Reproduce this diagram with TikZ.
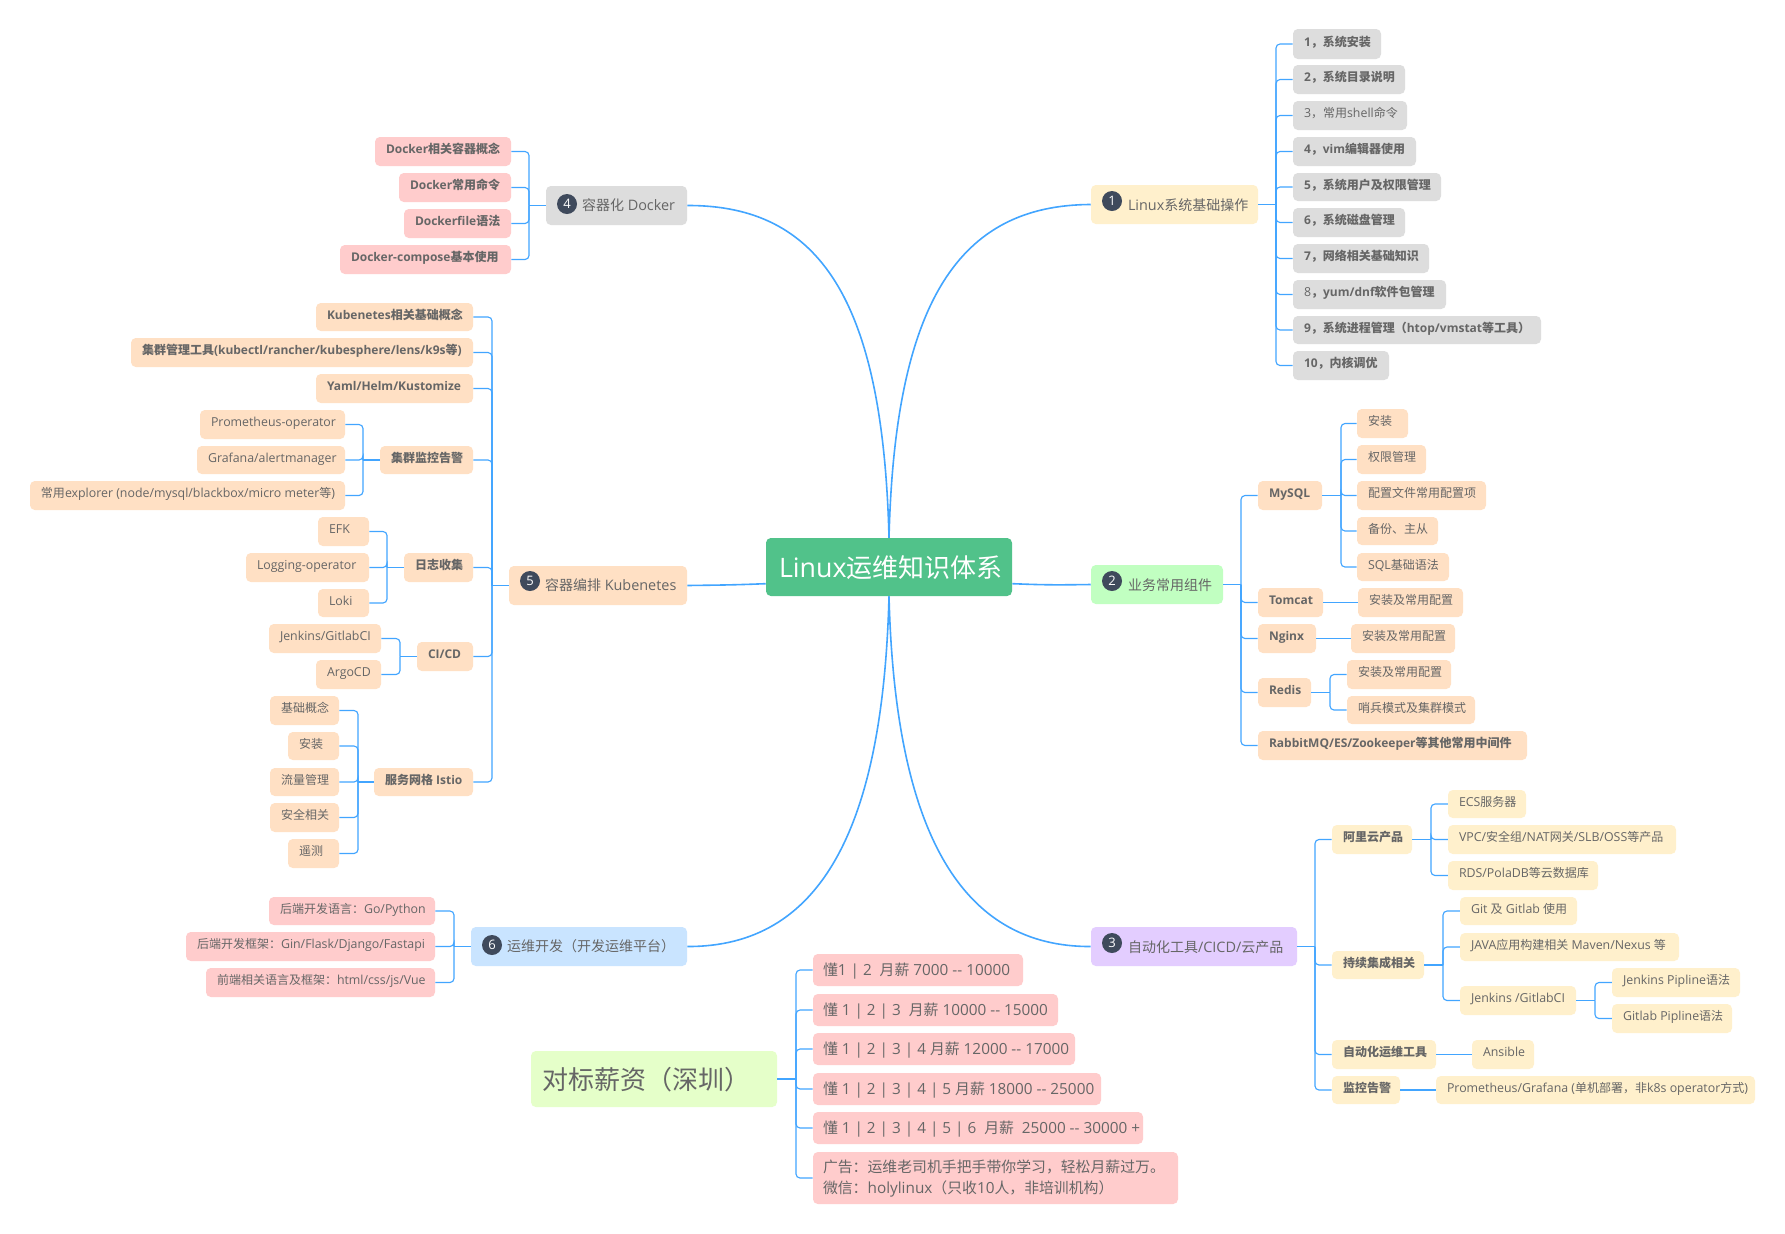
\documentclass[tikz,border=0pt]{standalone}
\usepackage{fontspec}
\setmainfont[Scale=1.03,BoldFeatures={Scale=1.0}]{Open Sans}
\newfontfamily\cjkf{Noto Sans CJK SC}
\newXeTeXintercharclass\cjkclass
\newcount\cc
\newcommand{\setcjkrange}[2]{\cc=#1 \loop\XeTeXcharclass\cc=\cjkclass \ifnum\cc<#2 \advance\cc by 1 \repeat}
\setcjkrange{"3000}{"30FF}
\setcjkrange{"4E00}{"9FFF}
\setcjkrange{"FF00}{"FFEF}
\XeTeXinterchartokenstate=1
\XeTeXinterchartoks 0 \cjkclass={\begingroup\cjkf}
\XeTeXinterchartoks 4095 \cjkclass={\begingroup\cjkf}
\XeTeXinterchartoks \cjkclass 0={\endgroup}
\XeTeXinterchartoks \cjkclass 4095={\endgroup}
\definecolor{txt}{HTML}{666666}
\definecolor{linkc}{HTML}{42A5FF}
\definecolor{cyel}{HTML}{FFF0CC}
\definecolor{cgre}{HTML}{C1FFC1}
\definecolor{cpur}{HTML}{E3CDFF}
\definecolor{cgry}{HTML}{DDDDDD}
\definecolor{corg}{HTML}{FFE0C4}
\definecolor{cblu}{HTML}{C9E4FF}
\definecolor{cpnk}{HTML}{FFCCCC}
\definecolor{cmid}{HTML}{51C28A}
\definecolor{clim}{HTML}{E5FFC9}
\definecolor{cbad}{HTML}{3F4A5C}
\tikzset{
 mmbox/.style={rectangle,rounded corners=3.6pt,inner sep=0pt,text=txt,draw=none,anchor=center},
 sm/.style={font=\fontsize{9}{11}\selectfont,text height=8pt,text depth=4.5pt},
 bd/.style={font=\fontsize{9}{11}\selectfont\bfseries,text height=8pt,text depth=4.5pt},
 lv/.style={font=\fontsize{10.5}{12}\selectfont,text height=10.6pt,text depth=2pt},
 lvl/.style={font=\fontsize{10.5}{12}\selectfont,text height=10pt,text depth=2pt},
 sal/.style={font=\fontsize{11.15}{15.75}\selectfont,text height=10.5pt,text depth=2pt},
 big/.style={font=\fontsize{19.5}{22}\selectfont,text height=20pt,text depth=5pt},
 badge/.style={circle,fill=cbad,text=white,inner sep=0pt,minimum size=15pt,font=\fontsize{9.5}{11}\selectfont},
 link/.style={draw=linkc,line width=.85pt},
 linkr/.style={link,rounded corners=3pt},
 mainlink/.style={draw=linkc,line width=1.2pt}
}
\newcommand{\N}[8][11]{%
 \pgfmathsetmacro\bw{(#5-#3)*0.75}\pgfmathsetmacro\bh{(#6-#4)*0.75}\pgfmathsetmacro\bp{#1*0.75}%
 \node[mmbox,fill=#7,#8,minimum width=\bw pt,minimum height=\bh pt] (#2) at ({(#3+#5)/2},{(#4+#6)/2}) {\makebox[\bw pt][l]{\hspace*{\bp pt}\nodetext}};}
\newcommand{\T}[1]{\def\nodetext{#1}}
\newcommand{\cnr}[3]{\draw[link] (#1.east) -- (#2 |- #1.east);\draw[linkr] (#2 |- #1.east) -- (#2 |- #3.west) -- (#3.west);}
\newcommand{\cnl}[3]{\draw[link] (#1.west) -- (#2 |- #1.west);\draw[linkr] (#2 |- #1.west) -- (#2 |- #3.east) -- (#3.east);}
\begin{document}
\begin{tikzpicture}[x=0.75pt,y=-0.75pt]
\fill[white] (0,0) rectangle (1785,1233);
\useasboundingbox (0,0) rectangle (1785,1233);
% centre
\T{\textcolor{white}{Linux运维知识体系}}\N[13]{ctr}{766}{538}{1012}{596}{cmid}{big}
% level one
\T{Linux系统基础操作}\N[37]{LA}{1091}{185}{1258}{224}{cyel}{lv}
\T{业务常用组件}\N[37]{LB}{1091}{565}{1223}{604}{cgre}{lv}
\T{自动化工具/CICD/云产品}\N[37]{LC}{1091}{927}{1297}{966}{cpur}{lv}
\T{容器化 Docker}\N[36]{LD}{546}{186}{687}{225}{cgry}{lvl}
\T{容器编排 Kubenetes}\N[36]{LE}{509}{566}{687}{605}{corg}{lvl}
\T{运维开发（开发运维平台）}\N[36]{LF}{471}{927}{687}{966}{cblu}{lvl}
\node[badge] (ba) at (1112,201) {1};
\node[badge] (bb) at (1112,581) {2};
\node[badge] (bc) at (1112,943) {3};
\node[badge] (bd) at (567,204) {4};
\node[badge] (be) at (530,581) {5};
\node[badge] (bf) at (492,945) {6};
% main curves
\draw[mainlink] (ctr.north) .. controls (895,300) and (960,205) .. (LA.west);
\draw[mainlink] (ctr.south) .. controls (895,830) and (960,947) .. (LC.west);
\draw[mainlink] (ctr.north) .. controls (883,300) and (820,205) .. (LD.east);
\draw[mainlink] (ctr.south) .. controls (883,830) and (820,947) .. (LF.east);
\draw[mainlink] ([yshift=-12.5pt]ctr.east) .. controls (1045,585) and (1055,585) .. (LB.west);
\draw[mainlink] ([yshift=-12.5pt]ctr.west) .. controls (733,585) and (723,585) .. (LE.east);
% group 1
\coordinate (ta) at (1276,0);
\T{1，系统安装}\N{a1}{1293}{29}{1381}{59}{cgry}{bd}
\T{2，系统目录说明}\N{a2}{1293}{65}{1405}{94}{cgry}{bd}
\T{3，常用shell命令}\N{a3}{1293}{101}{1407}{130}{cgry}{sm}
\T{4，vim编辑器使用}\N{a4}{1293}{137}{1416}{166}{cgry}{bd}
\T{5，系统用户及权限管理}\N{a5}{1293}{173}{1441}{201}{cgry}{bd}
\T{6，系统磁盘管理}\N{a6}{1293}{208}{1405}{237}{cgry}{bd}
\T{7，网络相关基础知识}\N{a7}{1293}{244}{1429}{273}{cgry}{bd}
\T{{\mdseries 8}，yum/dnf软件包管理}\N{a8}{1293}{280}{1446}{309}{cgry}{bd}
\T{9，系统进程管理（htop/vmstat等工具）}\N{a9}{1293}{316}{1541}{344}{cgry}{bd}
\T{10，内核调优}\N{a10}{1293}{351}{1389}{380}{cgry}{bd}
\foreach \c in {a1,a2,a3,a4,a5,a6,a7,a8,a9,a10} {\cnr{LA}{ta}{\c}}
% group 2
\coordinate (tb) at (1241,0);
\coordinate (tb1) at (1341,0);
\coordinate (tb2) at (1330,0);
\T{MySQL}\N{bm}{1258}{481}{1322}{510}{corg}{bd}
\T{Tomcat}\N{bt}{1258}{588}{1323}{617}{corg}{bd}
\T{Nginx}\N{bn}{1258}{624}{1316}{653}{corg}{bd}
\T{Redis}\N{br}{1258}{678}{1311}{707}{corg}{bd}
\T{RabbitMQ/ES/Zookeeper等其他常用中间件}\N{bq}{1258}{731}{1527}{760}{corg}{bd}
\foreach \c in {bm,bt,bn,br,bq} {\cnr{LB}{tb}{\c}}
\T{安装}\N{m1}{1357}{409}{1408}{438}{corg}{sm}
\T{权限管理}\N{m2}{1357}{445}{1426}{474}{corg}{sm}
\T{配置文件常用配置项}\N{m3}{1357}{481}{1486}{510}{corg}{sm}
\T{备份、主从}\N{m4}{1357}{517}{1438}{545}{corg}{sm}
\T{SQL基础语法}\N{m5}{1357}{553}{1449}{581}{corg}{sm}
\foreach \c in {m1,m2,m3,m4,m5} {\cnr{bm}{tb1}{\c}}
\T{安装及常用配置}\N{t1}{1358}{588}{1463}{617}{corg}{sm}
\draw[link] (bt.east) -- (t1.west);
\T{安装及常用配置}\N{n1}{1351}{624}{1455}{653}{corg}{sm}
\draw[link] (bn.east) -- (n1.west);
\T{安装及常用配置}\N{r1}{1347}{660}{1451}{689}{corg}{sm}
\T{哨兵模式及集群模式}\N{r2}{1347}{696}{1475}{724}{corg}{sm}
\foreach \c in {r1,r2} {\cnr{br}{tb2}{\c}}
% group 3
\coordinate (tc) at (1315,0);
\coordinate (tc1) at (1431,0);
\coordinate (tc2) at (1443,0);
\coordinate (tc3) at (1595,0);
\T{阿里云产品}\N{ca}{1332}{825}{1412}{854}{cyel}{bd}
\T{持续集成相关}\N{cb}{1332}{951}{1424}{979}{cyel}{bd}
\T{自动化运维工具}\N{cc}{1332}{1040}{1436}{1069}{cyel}{bd}
\T{监控告警}\N{cd}{1332}{1076}{1400}{1104}{cyel}{bd}
\foreach \c in {ca,cb,cc,cd} {\cnr{LC}{tc}{\c}}
\T{ECS服务器}\N{a11}{1448}{790}{1526}{818}{cyel}{sm}
\T{VPC/安全组/NAT网关/SLB/OSS等产品}\N{a12}{1448}{825}{1676}{854}{cyel}{sm}
\T{RDS/PolaDB等云数据库}\N{a13}{1448}{861}{1598}{890}{cyel}{sm}
\foreach \c in {a11,a12,a13} {\cnr{ca}{tc1}{\c}}
\T{Git 及 Gitlab 使用}\N{g1}{1460}{897}{1577}{925}{cyel}{sm}
\T{JAVA应用构建相关 Maven/Nexus 等}\N{g2}{1460}{933}{1679}{961}{cyel}{sm}
\T{Jenkins /GitlabCI}\N{g3}{1460}{986}{1576}{1015}{cyel}{sm}
\foreach \c in {g1,g2,g3} {\cnr{cb}{tc2}{\c}}
\T{Jenkins Pipline语法}\N{j1}{1612}{968}{1740}{997}{cyel}{sm}
\T{Gitlab Pipline语法}\N{j2}{1612}{1004}{1732}{1033}{cyel}{sm}
\foreach \c in {j1,j2} {\cnr{g3}{tc3}{\c}}
\T{Ansible}\N{an}{1472}{1040}{1534}{1069}{cyel}{sm}
\draw[link] (cc.east) -- (an.west);
\T{Prometheus/Grafana (单机部署，非k8s operator方式)}\N{pg}{1436}{1076}{1755}{1104}{cyel}{sm}
\draw[link] (cd.east) -- (pg.west);
% group 4
\coordinate (td) at (529,0);
\T{Docker相关容器概念}\N{d1}{375}{137}{511}{166}{cpnk}{bd}
\T{Docker常用命令}\N{d2}{399}{173}{511}{202}{cpnk}{bd}
\T{Dockerfile语法}\N{d3}{404}{209}{511}{238}{cpnk}{bd}
\T{Docker-compose基本使用}\N{d4}{340}{245}{511}{274}{cpnk}{bd}
\foreach \c in {d1,d2,d3,d4} {\cnl{LD}{td}{\c}}
% group 5
\coordinate (te) at (492,0);
\coordinate (te1) at (363,0);
\coordinate (te2) at (387,0);
\coordinate (te3) at (400,0);
\coordinate (te4) at (358,0);
\T{Kubenetes相关基础概念}\N{k1}{316}{303}{473}{331}{corg}{bd}
\T{集群管理工具(kubectl/rancher/kubesphere/lens/k9s等)}\N{k2}{131}{338}{473}{367}{corg}{bd}
\T{Yaml/Helm/Kustomize}\N{k3}{316}{374}{473}{403}{corg}{bd}
\T{集群监控告警}\N{k4}{380}{446}{473}{474}{corg}{bd}
\T{日志收集}\N{k5}{404}{553}{473}{582}{corg}{bd}
\T{CI/CD}\N{k6}{417}{642}{473}{671}{corg}{bd}
\T{服务网格 Istio}\N{k7}{374}{768}{473}{796}{corg}{bd}
\foreach \c in {k1,k2,k3,k4,k5,k6,k7} {\cnl{LE}{te}{\c}}
\T{Prometheus-operator}\N{p1}{200}{410}{345}{439}{corg}{sm}
\T{Grafana/alertmanager}\N{p2}{197}{446}{345}{474}{corg}{sm}
\T{常用explorer (node/mysql/blackbox/micro meter等)}\N{p3}{30}{481}{345}{510}{corg}{sm}
\foreach \c in {p1,p2,p3} {\cnl{k4}{te1}{\c}}
\T{EFK}\N{l1}{318}{517}{369}{546}{corg}{sm}
\T{Logging-operator}\N{l2}{246}{553}{369}{582}{corg}{sm}
\T{Loki}\N{l3}{318}{589}{369}{617}{corg}{sm}
\foreach \c in {l1,l2,l3} {\cnl{k5}{te2}{\c}}
\T{Jenkins/GitlabCI}\N{i1}{269}{624}{381}{653}{corg}{sm}
\T{ArgoCD}\N{i2}{316}{660}{381}{689}{corg}{sm}
\foreach \c in {i1,i2} {\cnl{k6}{te3}{\c}}
\T{基础概念}\N{s1}{270}{696}{339}{725}{corg}{sm}
\T{安装}\N{s2}{288}{732}{339}{760}{corg}{sm}
\T{流量管理}\N{s3}{270}{768}{339}{796}{corg}{sm}
\T{安全相关}\N{s4}{270}{803}{339}{832}{corg}{sm}
\T{遥测}\N{s5}{288}{839}{339}{868}{corg}{sm}
\foreach \c in {s1,s2,s3,s4,s5} {\cnl{k7}{te4}{\c}}
% group 6
\coordinate (tf) at (454,0);
\T{后端开发语言：Go/Python}\N{f1}{269}{897}{435}{925}{cpnk}{sm}
\T{后端开发框架：Gin/Flask/Django/Fastapi}\N{f2}{186}{932}{435}{961}{cpnk}{sm}
\T{前端相关语言及框架：html/css/js/Vue}\N{f3}{206}{968}{435}{997}{cpnk}{sm}
\foreach \c in {f1,f2,f3} {\cnl{LF}{tf}{\c}}
% salary
\coordinate (tg) at (796,0);
\T{对标薪资（深圳）}\N{sl}{531}{1051}{777}{1107}{clim}{big}
\T{懂1 | 2\ \ 月薪 7000 -{}- 10000}\N[10]{q1}{813}{954}{1023}{986}{cpnk}{sal}
\T{懂 1 | 2 | 3\ \ 月薪 10000 -{}- 15000}\N[10]{q2}{813}{994}{1058}{1026}{cpnk}{sal}
\T{懂 1 | 2 | 3 | 4 月薪 12000 -{}- 17000}\N[10]{q3}{813}{1033}{1075}{1065}{cpnk}{sal}
\T{懂 1 | 2 | 3 | 4 | 5 月薪 18000 -{}- 25000}\N[10]{q4}{813}{1073}{1101}{1105}{cpnk}{sal}
\T{懂 1 | 2 | 3 | 4 | 5 | 6\ \ 月薪\ \ 25000 -{}- 30000 +}\N[10]{q5}{813}{1112}{1143}{1144}{cpnk}{sal}
\T{\parbox[c]{300pt}{广告：运维老司机手把手带你学习，轻松月薪过万。\\微信：holylinux（只收10人，非培训机构）}}\N[10]{q6}{813}{1152}{1178}{1204}{cpnk}{sal,text depth=5pt}
\foreach \c in {q1,q2,q3,q4,q5,q6} {\cnr{sl}{tg}{\c}}
\end{tikzpicture}
\end{document}
